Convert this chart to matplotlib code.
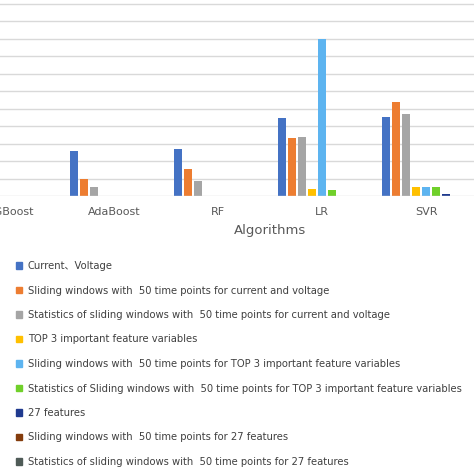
import numpy as np
import matplotlib.pyplot as plt
from matplotlib.patches import Patch

plt.rcParams["font.family"] = ["DejaVu Sans", "Noto Sans CJK SC"]

algorithms = ["XGBoost", "AdaBoost", "RF", "LR", "SVR"]
series = [
    "Current\u3001Voltage",
    "Sliding windows with  50 time points for current and voltage",
    "Statistics of sliding windows with  50 time points for current and voltage",
    "TOP 3 important feature variables",
    "Sliding windows with  50 time points for TOP 3 important feature variables",
    "Statistics of Sliding windows with  50 time points for TOP 3 important feature variables",
    "27 features",
    "Sliding windows with  50 time points for 27 features",
    "Statistics of sliding windows with  50 time points for 27 features",
]
colors = ["#4472C4", "#ED7D31", "#A5A5A5", "#FFC000", "#5DB4F0",
          "#70D02A", "#1F3A8F", "#843C0C", "#4F5B57"]
# values per series across algorithms (grid units)
values = [
    [0, 2.6, 2.7, 4.45, 4.5],
    [0, 1.0, 1.55, 3.3, 5.4],
    [0, 0.5, 0.85, 3.4, 4.7],
    [0, 0, 0, 0.4, 0.55],
    [0, 0, 0, 9.0, 0.55],
    [0, 0, 0, 0.35, 0.5],
    [0, 0, 0, 0, 0.15],
    [0, 0, 0, 0, 0],
    [0, 0, 0, 0, 0],
]

fig = plt.figure(figsize=(4.74, 4.74), dpi=100)
ax = fig.add_axes([-42 / 474, 0.586, 520 / 474, 0.414])
x = np.arange(len(algorithms))
step, w = 0.096, 0.07
for i, (vals, c) in enumerate(zip(values, colors)):
    ax.bar(x + (i - 4) * step, vals, w, color=c, zorder=3)
ax.set_xlim(-0.5, 4.5)
ax.set_ylim(0, 11.2)
ax.set_yticks(np.arange(1, 12))
ax.set_yticklabels([])
ax.tick_params(length=0)
ax.grid(axis="y", color="#D9D9D9", lw=1, zorder=0)
ax.axhline(0, color="#D9D9D9", lw=1, zorder=4)
for s in ax.spines.values():
    s.set_visible(False)
ax.set_xticks(x)
ax.set_xticklabels(algorithms, fontsize=8, color="#595959")
ax.tick_params(axis="x", pad=8)
fig.text(270 / 474, 1 - 231 / 474, "Algorithms", fontsize=9.5, color="#595959",
         ha="center", va="center")

handles = [Patch(color=c) for c in colors]
fig.legend(handles, series, loc="upper left", bbox_to_anchor=(0.025, 1 - 257 / 474),
           frameon=False, fontsize=7.2, labelcolor="#404040", handlelength=0.6,
           handleheight=0.6, handletextpad=0.6, labelspacing=1.45, borderaxespad=0)
fig.savefig("out.png")
